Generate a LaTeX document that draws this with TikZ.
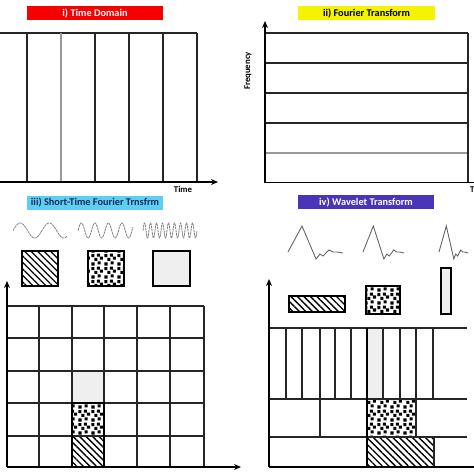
\documentclass[tikz,border=0pt]{standalone}
\usepackage{fontspec}
\setmainfont{Carlito}
\usetikzlibrary{arrows.meta,patterns,patterns.meta}

\pgfdeclarepatternformonly{blocks}{\pgfqpoint{0pt}{0pt}}{\pgfqpoint{13pt}{13pt}}{\pgfqpoint{13pt}{13pt}}{%
 \pgfpathrectangle{\pgfqpoint{0.5pt}{0.5pt}}{\pgfqpoint{3.2pt}{3.2pt}}%
 \pgfpathrectangle{\pgfqpoint{7pt}{1.6pt}}{\pgfqpoint{3.2pt}{3.2pt}}%
 \pgfpathrectangle{\pgfqpoint{3.6pt}{5.4pt}}{\pgfqpoint{3.2pt}{3.2pt}}%
 \pgfpathrectangle{\pgfqpoint{9.4pt}{6.8pt}}{\pgfqpoint{3.2pt}{3.2pt}}%
 \pgfpathrectangle{\pgfqpoint{0.3pt}{9.4pt}}{\pgfqpoint{3.2pt}{3.2pt}}%
 \pgfpathrectangle{\pgfqpoint{6.2pt}{9.8pt}}{\pgfqpoint{3.2pt}{3.2pt}}%
 \pgfusepath{fill}}

\definecolor{tred}{HTML}{F80000}
\definecolor{tyellow}{HTML}{F4F400}
\definecolor{tcyan}{HTML}{5CCFF2}
\definecolor{tpurple}{HTML}{4A35B8}
\definecolor{tnavy}{HTML}{1A2A5A}
\definecolor{lightcell}{HTML}{EFEFEF}

\tikzset{
  titlebox/.style={draw=none, minimum height=14pt, inner sep=0pt, font=\fontsize{10.3}{12}\selectfont\bfseries},
  gridl/.style={line width=1.1pt, draw=black!85},
  lgridl/.style={line width=1.1pt, draw=black!40},
  axisl/.style={line width=1.3pt, draw=black, -{Stealth[length=7pt,width=6pt]}},
  plainaxis/.style={line width=1.3pt, draw=black},
  boxl/.style={line width=1.4pt, draw=black},
  hatchfill/.style={pattern={Lines[angle=-45,distance=4.6pt,line width=1.3pt]}},
  dotfill/.style={pattern=blocks},
  lightfill/.style={fill=lightcell},
  wave/.style={draw=black!50, line width=0.8pt, dash pattern=on 2.5pt off 0.7pt},
  wavelet/.style={draw=black!60, line width=0.9pt},
  axlabel/.style={font=\fontsize{8.8}{10}\selectfont\bfseries, inner sep=0pt}
}

\begin{document}
\begin{tikzpicture}[x=1pt,y=-1pt]
\useasboundingbox (0,0) rectangle (474,474);
\clip (0,0) rectangle (474,474);
\fill[white] (0,0) rectangle (474,474);

% ---------- Panel i: Time Domain ----------
\node[titlebox, fill=tred, text=white, minimum width=136pt] (t1) at (95,13) {i) Time Domain};
\draw[gridl] (0,33) -- (197,33);
\foreach \x in {27,95,129,163,197} \draw[gridl] (\x,33) -- (\x,182);
\draw[lgridl] (61,33) -- (61,182);
\coordinate (o1) at (0,182);
\coordinate (e1) at (218,182);
\draw[axisl] (o1) -- (e1);
\node[axlabel] (time1) at (183,189.5) {Time};

% ---------- Panel ii: Fourier Transform ----------
\node[titlebox, fill=tyellow, text=black, minimum width=137pt] (t2) at (366.5,13) {ii) Fourier Transform};
\foreach \y in {33,63,93,123} \draw[gridl] (265,\y) -- (468,\y);
\draw[lgridl] (265,153) -- (468,153);
\draw[gridl] (468,33) -- (468,182.5);
\coordinate (o2) at (265,182.5);
\coordinate (n2) at (265,21);
\coordinate (e2) at (480,182.5);
\draw[axisl] (o2) -- (n2);
\draw[plainaxis] (o2) -- (e2);
\node[axlabel, rotate=90] (freq) at (248,71) {Frequency};
\node[axlabel, anchor=west] (time2) at (470,189.5) {Time};

% ---------- Panel iii: STFT ----------
\node[titlebox, fill=tcyan, text=tnavy, minimum width=136pt] (t3) at (95,202.5) {iii) Short-Time Fourier Trnsfrm};
\draw[wave] plot[domain=0:54, samples=120] ({13+\x},{230.5-7.5*sin(12.4138*\x)});
\draw[wave] plot[domain=0:55, samples=200] ({78+\x},{230.5-7.5*sin(26.667*\x)});
\draw[wave] plot[domain=0:54, samples=360] ({143+\x},{230.5-7.5*sin(60*\x)});

\draw[boxl, hatchfill] (22,251) rectangle (58,286);
\draw[boxl, dotfill] (88,251) rectangle (124,286);
\draw[boxl, lightfill] (153,251) rectangle (190,286);

\fill[lightcell] (72,371) rectangle (104,403);
\fill[dotfill] (72,403) rectangle (104,436);
\fill[hatchfill] (72,436) rectangle (104,467);
\foreach \y in {306,338,371,403,436} \draw[gridl] (7,\y) -- (204,\y);
\foreach \x in {39,72,104,137,170,204} \draw[gridl] (\x,306) -- (\x,467);
\draw[boxl] (72,403) rectangle (104,467);
\coordinate (o3) at (7,467);
\coordinate (n3) at (7,281);
\coordinate (e3) at (241,467);
\draw[axisl] (o3) -- (n3);
\draw[axisl] (o3) -- (e3);

% ---------- Panel iv: Wavelet Transform ----------
\node[titlebox, fill=tpurple, text=white, minimum width=136pt] (t4) at (366,202) {iv) Wavelet Transform};
\draw[wavelet] plot coordinates {(288,252) (302,226) (316,259) (320,254) (323,256) (329,250) (333,252) (337,252) (343,253)};
\draw[wavelet] plot coordinates {(363,252) (373.3,226) (383.9,259) (386.8,254) (389.2,256) (393.8,250) (396.6,252) (399.5,252) (404,253)};
\draw[wavelet] plot coordinates {(439,252) (446.3,226) (453.8,259) (455.8,254) (457.6,256) (460.8,250) (462.8,252) (464.8,252) (468,253)};

\draw[boxl, hatchfill] (289,296) rectangle (345,312);
\draw[boxl, dotfill] (366,286) rectangle (400,314);
\draw[boxl, lightfill] (441,268) rectangle (451,314);

\fill[lightcell] (367,328) rectangle (383,399);
\fill[dotfill] (367,399) rectangle (416,437);
\fill[hatchfill] (367,437) rectangle (434,467);
\foreach \y in {328,399,437} \draw[gridl] (269,\y) -- (467,\y);
\foreach \x in {286,302,320,335,351,383,400,416,433} \draw[gridl] (\x,328) -- (\x,399);
\draw[gridl] (320,399) -- (320,437);
\draw[gridl] (416,399) -- (416,437);
\draw[gridl] (434,437) -- (434,467);
\draw[boxl] (367,328) -- (367,467);
\coordinate (o4) at (269,467);
\coordinate (n4) at (269,279);
\coordinate (e4) at (480,467);
\draw[axisl] (o4) -- (n4);
\draw[plainaxis] (o4) -- (e4);
\end{tikzpicture}
\end{document}
